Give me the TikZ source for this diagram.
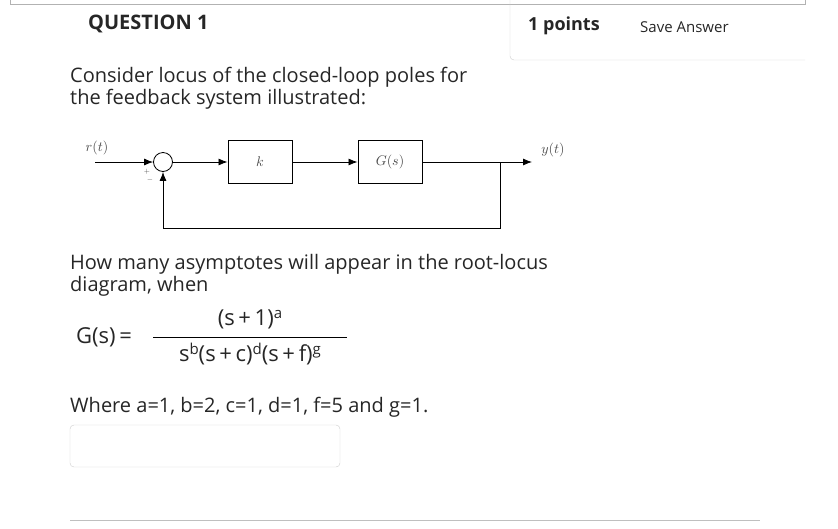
\documentclass[tikz,border=0pt]{standalone}
\usepackage{fontspec}
\setmainfont{Open Sans}
\usetikzlibrary{arrows.meta}
\begin{document}
\begin{tikzpicture}[x=1pt,y=-1pt,
  blk/.style={draw,line width=1pt,minimum width=64pt,minimum height=43pt,inner sep=0pt},
  sig/.style={line width=0.8pt,-{Latex[length=9pt,width=7pt]}},
  lab/.style={text=black!70,scale=1.4},
  txt/.style={anchor=west,inner sep=0pt,font=\fontsize{20}{22}\selectfont,text=black!85}]
\useasboundingbox (0,0) rectangle (838,528);
\draw[gray!60] (10,0) -- (10,4) -- (805,4) -- (805,0);
\draw[gray!40,rounded corners=4pt] (510,0) -- (510,60) -- (805,60);
\node[txt,font=\bfseries\fontsize{20}{21}\selectfont] (q) at (88,24) {QUESTION 1};
\node[txt,font=\bfseries\fontsize{18}{20}\selectfont] (p) at (528,26) {1 points};
\node[txt,font=\fontsize{15}{16}\selectfont] (s) at (640,27) {Save Answer};
\node[txt,align=left,anchor=north west] (c) at (70,67) {Consider locus of the closed-loop poles for\\the feedback system illustrated:};
% block diagram
\node[circle,draw,line width=0.8pt,minimum size=19pt,inner sep=0pt] (sum) at (163,162) {};
\node[blk] (k) at (260,162) {};
\node[blk] (g) at (390,162) {};
\node[lab] (kl) at (k) {$k$};
\node[lab] (gl) at (g) {$G(s)$};
\coordinate (in) at (95,162);
\coordinate (out) at (532,162);
\coordinate (br) at (500,162);
\coordinate (bd) at (500,228);
\coordinate (bl) at (163,228);
\node[lab] (rt) at (97,148) {$r(t)$};
\node[lab] (yt) at (553,150) {$y(t)$};
\node[font=\scriptsize,text=black!70] (pl) at (147,172) {$+$};
\node[font=\scriptsize,text=black!70] (mi) at (150,180) {$-$};
\draw[sig] (in) -- (sum);
\draw[sig] (sum) -- (k);
\draw[sig] (k) -- (g);
\draw[sig] (g) -- (out);
\draw[sig] (br) -- (bd) -- (bl) -- (sum);
\node[txt,align=left,anchor=north west] (h) at (70,254) {How many asymptotes will appear in the root-locus\\diagram, when};
\node[txt,font=\fontsize{22}{22}\selectfont] (gs) at (76,337) {G(s)\,=};
\node[font=\fontsize{22}{22}\selectfont,text=black!85] (num) at (250,319) {(s\,+\,1)\raisebox{0.6ex}{\fontsize{15}{15}\selectfont a}};
\node[font=\fontsize{22}{22}\selectfont,text=black!85] (den) at (250,354) {s\raisebox{0.6ex}{\fontsize{15}{15}\selectfont b}(s\,+\,c)\raisebox{0.6ex}{\fontsize{15}{15}\selectfont d}(s\,+\,f)\raisebox{0.6ex}{\fontsize{15}{15}\selectfont g}};
\draw[line width=0.8pt] (153,337) -- (347,337);
\node[txt] (w) at (70,407) {Where a=1, b=2, c=1, d=1, f=5 and g=1.};
\draw[gray!40,rounded corners=4pt] (70,425) rectangle (340,467);
\draw[gray!50] (70,520) -- (760,520);
\end{tikzpicture}
\end{document}
